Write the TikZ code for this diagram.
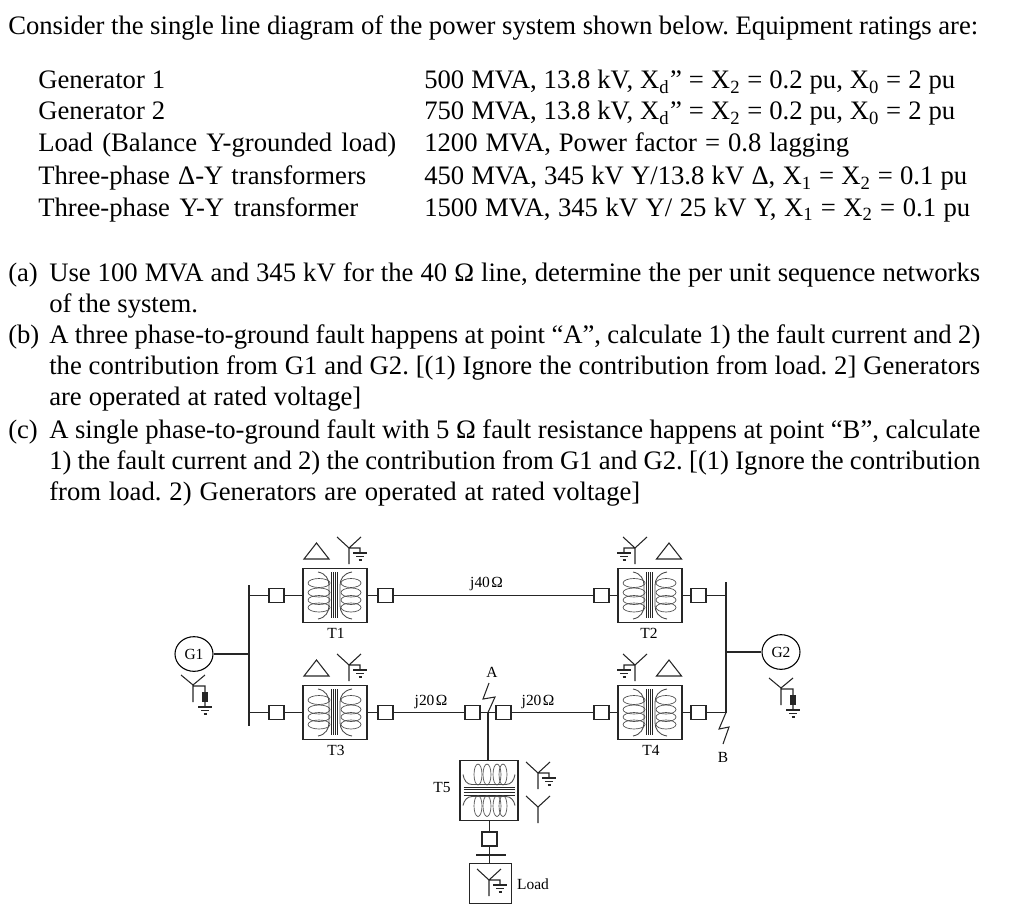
\documentclass[tikz,border=0pt]{standalone}
\usepackage{fontspec}
\setmainfont{Liberation Serif}
\usetikzlibrary{shapes.geometric}
\newcommand{\xd}{X\textsubscript{d}\kern.5pt”}
\newcommand{\xs}[1]{X\textsubscript{#1}}
\newcommand{\fit}[2]{\makebox[\dimexpr#1pt*3/4\relax][s]{#2}}
\tikzset{
  txt/.style={anchor=base west,inner sep=0,font=\fontsize{20}{24}\selectfont\frenchspacing},
  lbl/.style={inner sep=0,font=\fontsize{11.6}{13}\selectfont},
  wire/.style={line width=.8pt,black!85},
  corel/.style={line width=.5pt,black!85},
  xfmr/.style={draw,black!85,line width=.95pt,minimum width=48pt,minimum height=40pt,inner sep=0},
  xfmrv/.style={draw,black!85,line width=.95pt,minimum width=43.5pt,minimum height=45.5pt,inner sep=0},
  breaker/.style={draw,black!85,line width=.8pt,minimum width=11.25pt,minimum height=10.5pt,inner sep=0},
  gen/.style={draw,ellipse,line width=.8pt,minimum width=28.5pt,minimum height=26pt,inner sep=0,font=\fontsize{11.6}{13}\selectfont},
  coil/.style={line width=.5pt,black!70},
  gnd/.pic={\draw[wire] (-7,0) -- (7,0) (-4,3.5) -- (4,3.5) (-1.5,7) -- (1.5,7);},
  wye/.pic={\draw[wire] (-12,-11) -- (0,0) -- (12,-11) (0,0) -- (0,16);},
  wyeg/.pic={\draw[wire] (-12,-11) -- (0,0) -- (12,-11) (0,0) -- (0,16) (0,0) -- (11,0) -- (11,5);
    \pic at (11,5) {gnd};},
  wyel/.pic={\draw[wire] (-12,-10) -- (0,0) -- (12,-10) (0,0) -- (0,17) (0,1) -- (12,1) -- (12,22);
    \fill[black!85] (9.2,7) rectangle (14.8,17);
    \pic at (12,22) {gnd};},
  delta/.pic={\draw[wire] (-12.5,0) -- (0,-16) -- (12.5,0) -- cycle;},
  corev/.pic={
    \foreach \x in {-4,-2,0,2} \draw[corel] (\x,-23.5) -- (\x,22.5);
    \draw[coil,line width=.65pt] (-17,-23.5) .. controls (-9,-22) and (-6,-16) .. (-6,-10) -- (-6,10) .. controls (-6,16) and (-9,22) .. (-17,23.5);
    \draw[coil,line width=.65pt] (17,-23.5) .. controls (8,-22) and (5,-16) .. (5,-10) -- (5,10) .. controls (5,16) and (8,22) .. (17,23.5);
    \foreach \y in {-12.5,-3,4.5,12} {
      \draw[coil] (-16,\y) ellipse [x radius=11,y radius=4.5];
      \draw[coil] (16,\y) ellipse [x radius=10,y radius=4.5];
    }},
  coreh/.pic={
    \foreach \y in {-3.5,-1,1.5,4.5} \draw[corel] (-25.5,\y) -- (25.5,\y);
    \foreach \x in {-11,-2,8,14} {
      \draw[coil] (\x,-16) ellipse [x radius=4,y radius=10.5];
      \draw[coil] (\x,15.5) ellipse [x radius=4,y radius=10.5];
    }
    \draw[coil,line width=.65pt] (-26,-16) .. controls (-25,-10) and (-22,-6) .. (-17,-6) -- (17,-6) .. controls (22,-6) and (25,-10) .. (26,-16);
    \draw[coil,line width=.65pt] (-26,15) .. controls (-25,10) and (-22,6) .. (-17,6) -- (17,6) .. controls (22,6) and (25,10) .. (26,15);
  },
}
\begin{document}
\begin{tikzpicture}[x=.75pt,y=-.75pt]
\useasboundingbox (0,0) rectangle (1030,916);

% question text
\node[txt] (head) at (8,35) {\fit{970}{Consider the single line diagram of the power system shown below. Equipment ratings are:}};
\node[txt] (eqA) at (38,89) {\fit{127}{Generator 1}};
\node[txt] (eqB) at (38,120) {\fit{127}{Generator 2}};
\node[txt] (eqC) at (38,152) {\fit{358}{Load (Balance Y-grounded load)}};
\node[txt] (eqD) at (38,185) {\fit{328}{Three-phase Δ-Y transformers}};
\node[txt] (eqE) at (38,216) {\fit{320}{Three-phase Y-Y transformer}};
\node[txt] (valA) at (424,89) {\fit{531}{500 MVA, 13.8 kV, \xd{} = \xs{2} = 0.2 pu, \xs{0} = 2 pu}};
\node[txt] (valB) at (424,120) {\fit{531}{750 MVA, 13.8 kV, \xd{} = \xs{2} = 0.2 pu, \xs{0} = 2 pu}};
\node[txt] (valC) at (424,152) {\fit{425}{1200 MVA, Power factor = 0.8 lagging}};
\node[txt] (valD) at (424,185) {\fit{543}{450 MVA, 345 kV Y/13.8 kV Δ, \xs{1} = \xs{2} = 0.1 pu}};
\node[txt] (valE) at (424,216) {\fit{546}{1500 MVA, 345 kV Y/ 25 kV Y, \xs{1} = \xs{2} = 0.1 pu}};
\node[txt] (qaTag) at (8,281) {(a)};
\node[txt] (qa) at (49,281) {\fit{931}{Use 100 MVA and 345 kV for the 40 Ω line, determine the per unit sequence networks}};
\node[txt] (qaB) at (49,312) {of the system.};
\node[txt] (qbTag) at (8,343) {(b)};
\node[txt] (qb) at (49,343) {\fit{931}{A three phase-to-ground fault happens at point “A”, calculate 1) the fault current and 2)}};
\node[txt] (qbB) at (49,374) {\fit{931}{the contribution from G1 and G2. [(1) Ignore the contribution from load. 2] Generators}};
\node[txt] (qbC) at (49,405) {\fit{312}{are operated at rated voltage]}};
\node[txt] (qcTag) at (8,438) {(c)};
\node[txt] (qc) at (49,438) {\fit{931}{A single phase-to-ground fault with 5 Ω fault resistance happens at point “B”, calculate}};
\node[txt] (qcB) at (49,469) {\fit{931}{1) the fault current and 2) the contribution from G1 and G2. [(1) Ignore the contribution}};
\node[txt] (qcC) at (49,500) {\fit{591}{from load. 2) Generators are operated at rated voltage]}};

% busbars
\coordinate (busLa) at (249,585);
\coordinate (busLb) at (249,726);
\coordinate (busRa) at (726,582);
\coordinate (busRb) at (726,712.5);
\draw[wire] (busLa) -- (busLb);
\draw[wire] (busRa) -- (busRb);

% generators
\node[gen] (G1) at (194,654) {G1};
\node[gen] (G2) at (781,652) {G2};
\draw[wire] (G1) -- (G1 -| busLa);
\draw[wire] (G2) -- (G2 -| busRa);
\pic at (193,685) {wyel};
\pic at (781,688) {wyel};

% transformers
\node[xfmr] (T1) at (335,595.5) {};
\node[xfmr] (T3) at (335,712.5) {};
\node[xfmr] (T2) at (650,595.5) {};
\node[xfmr] (T4) at (650,712.5) {};
\pic at (T1) {corev};
\pic at (T3) {corev};
\pic at (T2) {corev};
\pic at (T4) {corev};
\node[lbl] (T1t) at (336,633) {T1};
\node[lbl] (T3t) at (336,750) {T3};
\node[lbl] (T2t) at (649,633) {T2};
\node[lbl] (T4t) at (651,750) {T4};

% winding symbols
\foreach \yy in {0,117} {
  \pic at (316.5,559+\yy) {delta};
  \pic at (349,548+\yy) {wyeg};
  \pic at (669,559+\yy) {delta};
  \pic[xscale=-1] at (635,548+\yy) {wyeg};
}

% breakers
\node[breaker] (bA) at (276.5,595.5) {};
\node[breaker] (bB) at (385.5,595.5) {};
\node[breaker] (bC) at (601.5,595.5) {};
\node[breaker] (bD) at (698.5,595.5) {};
\node[breaker] (bE) at (276.5,712.5) {};
\node[breaker] (bF) at (385.5,712.5) {};
\node[breaker] (bG) at (472.5,712.5) {};
\node[breaker] (bH) at (503.5,712.5) {};
\node[breaker] (bI) at (601.5,712.5) {};
\node[breaker] (bJ) at (698.5,712.5) {};
\draw[wire] (bA -| busLa) -- (bA) (bA) -- (T1) (T1) -- (bB);
\draw[wire] (bB) -- (bC);
\draw[wire] (bC) -- (T2) (T2) -- (bD) (bD) -- (bD -| busRa);
\draw[wire] (bE -| busLa) -- (bE) (bE) -- (T3) (T3) -- (bF);
\draw[wire] (bF) -- (bG);
\draw[wire] (bH) -- (bI);
\draw[wire] (bI) -- (T4) (T4) -- (bJ) (bJ) -- (bJ -| busRa);
\node[lbl] (z40) at (486.5,584) {j40\kern1pt Ω};
\node[lbl] (z20a) at (431,702) {j20\kern1pt Ω};
\node[lbl] (z20b) at (538,702) {j20\kern1pt Ω};

% T5 and load
\coordinate (faultA) at (488,712.5);
\node[xfmrv] (T5) at (489,790.5) {};
\pic at (T5) {coreh};
\node[lbl] (T5t) at (442,788) {T5};
\pic at (538,773) {wyeg};
\pic at (538,807) {wye};
\node[breaker] (bK) at (489.5,839) {};
\coordinate (busLda) at (476,855);
\coordinate (busLdb) at (506,855);
\node[draw,black!85,line width=.95pt,minimum width=32pt,minimum height=29.5pt,inner sep=0] (load) at (490.5,883.5) {};
\pic at (489,880) {wyeg};
\node[lbl] (loadt) at (533,884) {Load};
\draw[wire] (faultA) -- (faultA |- T5.north);
\draw[wire] (bG) -- (bH);
\draw[wire] (T5.south -| bK) -- (bK);
\draw[wire] (bK) -- (load.north -| bK);
\draw[wire] (busLda) -- (busLdb);

% faults
\node[lbl] (A) at (492,672) {A};
\node[lbl] (B) at (723,757) {B};
\draw[wire,line join=miter] (489,683) -- (483,699) -- (495,697) -- (faultA);
\draw[wire,line join=miter] (busRb) -- (719,729) -- (729,727) -- (723,744);
\end{tikzpicture}
\end{document}
